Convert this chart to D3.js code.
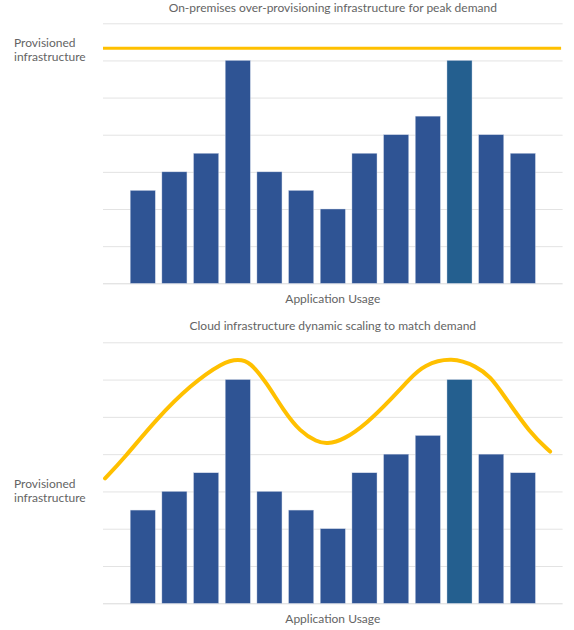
<!DOCTYPE html>
<html><head><meta charset="utf-8">
<script src="https://cdn.jsdelivr.net/npm/d3@7/dist/d3.min.js"></script>
<style>
html,body{margin:0;padding:0;background:#fff;}
svg{display:block;}
text{font-family:Lato, "Open Sans", sans-serif;fill:#646464;}
</style></head>
<body>
<svg id="chart" width="574" height="630"></svg>
<script>
// ---- data ----
const categories = ["1","2","3","4","5","6","7","8","9","10","11","12","13"];
const usage = [2.5, 3, 3.5, 6, 3, 2.5, 2, 3.5, 4, 4.5, 6, 4, 3.5];
const highlightIndex = [10];
const provisionedFlat = 6.33;
// cloud provisioning curve: [band position (index units), value]
const cloudPos = [-1.19, -0.61, 0.45, 1.5, 2.55, 3.02, 3.39, 3.92, 4.44, 4.97, 5.5, 5.81, 6.34, 7.08, 7.81, 8.44, 8.86, 9.76, 10.55, 10.97, 11.39, 12.23, 12.86];
const cloudVal = [3.35, 3.87, 4.96, 5.85, 6.48, 6.55, 6.48, 5.9, 5.18, 4.6, 4.33, 4.27, 4.38, 4.83, 5.45, 6.03, 6.39, 6.61, 6.35, 6.08, 5.59, 4.56, 4.07];
const yTicks = [0, 1, 2, 3, 4, 5, 6, 7];
const titles = ["On-premises over-provisioning infrastructure for peak demand", "Cloud infrastructure dynamic scaling to match demand"];
const xTitle = "Application Usage";
const yTitle = ["Provisioned", "infrastructure"];

// ---- drawing ----
const svg = d3.select("#chart");
const left = 103, right = 562.6;
const x = d3.scaleBand().domain(categories).range([left, right]).paddingInner(0.21).paddingOuter(0.86);
const step = x.step();
const xPos = d3.scaleLinear().domain([0, 1]).range([x(categories[0]) + x.bandwidth()/2, x(categories[0]) + x.bandwidth()/2 + step]);

const panels = [
  {top: 23.3, bottom: 283.3, title: titles[0], titleY: 11.5, xTitleY: 302.5, yLab: [46.5, 60.5], kind: "flat"},
  {top: 342.3, bottom: 603.3, title: titles[1], titleY: 330, xTitleY: 622.5, yLab: [488, 502], kind: "curve"}
];

panels.forEach(p => {
  const y = d3.scaleLinear().domain([0, 7]).range([p.bottom, p.top]);
  const g = svg.append("g");
  // gridlines
  g.append("g").attr("transform", `translate(${left},0)`)
    .call(d3.axisLeft(y).tickValues(yTicks).tickSize(-(right - left)).tickFormat(""))
    .call(s => s.select(".domain").remove())
    .call(s => s.selectAll(".tick line").attr("stroke", "#e3e3e3").attr("stroke-width", 1));
  g.select(".tick:first-of-type line").attr("stroke", "#d9d9d9");
  // bars
  g.selectAll("rect.bar").data(usage).join("rect")
    .attr("class", "bar")
    .attr("x", (d, i) => x(categories[i]))
    .attr("width", x.bandwidth())
    .attr("y", d => y(d))
    .attr("height", d => y(0) - y(d))
    .attr("fill", (d, i) => highlightIndex.includes(i) ? "#245f8f" : "#2f5494")
    .attr("stroke", "#c9d3e6").attr("stroke-width", 0.4);
  // provisioning
  if (p.kind === "flat") {
    g.append("line")
      .attr("x1", left).attr("x2", right - 1.5)
      .attr("y1", y(provisionedFlat)).attr("y2", y(provisionedFlat))
      .attr("stroke", "#ffc000").attr("stroke-width", 3);
  } else {
    const pts = cloudPos.map((c, i) => [xPos(c), y(cloudVal[i])]);
    g.append("path")
      .attr("d", d3.line().curve(d3.curveBasis)(pts))
      .attr("fill", "none").attr("stroke", "#ffc000").attr("stroke-width", 4)
      .attr("stroke-linecap", "round");
  }
  // texts
  g.append("text").attr("x", (left + right) / 2).attr("y", p.titleY)
    .attr("text-anchor", "middle").attr("font-size", 12).text(p.title);
  g.append("text").attr("x", (left + right) / 2).attr("y", p.xTitleY)
    .attr("text-anchor", "middle").attr("font-size", 12).text(xTitle);
  yTitle.forEach((t, i) => {
    g.append("text").attr("x", 14).attr("y", p.yLab[i]).attr("font-size", 12).text(t);
  });
});
</script>
</body></html>
